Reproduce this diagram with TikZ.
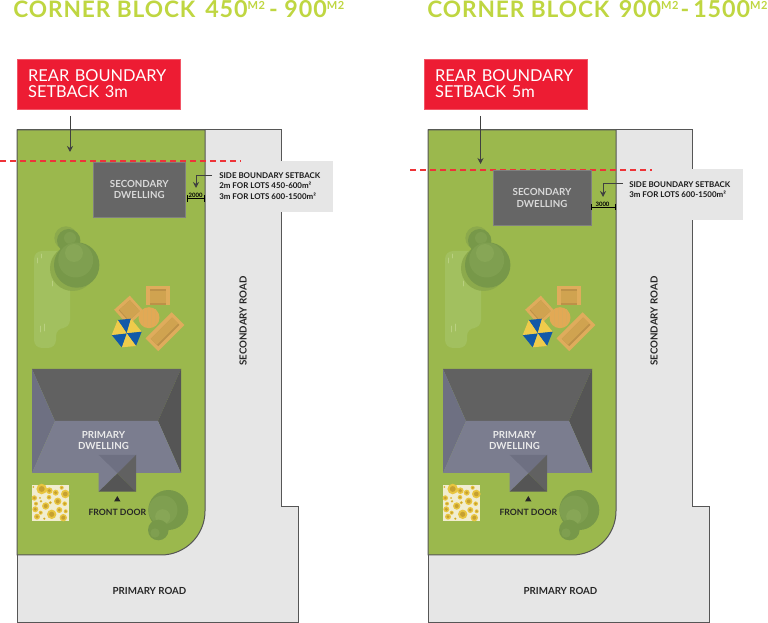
\documentclass[tikz,border=0pt]{standalone}
\usepackage{fontspec}
\setmainfont{Lato}
\usetikzlibrary{arrows.meta,calc,positioning}
\definecolor{lawn}{HTML}{9BB84D}
\definecolor{grassstrip}{HTML}{A2C05F}
\definecolor{grassline}{HTML}{B9D080}
\definecolor{roadgrey}{HTML}{E6E6E6}
\definecolor{edgegrey}{HTML}{565656}
\definecolor{titlegreen}{HTML}{BFD641}
\definecolor{setred}{HTML}{ED1C33}
\definecolor{dashred}{HTML}{EE3338}
\definecolor{seconddark}{HTML}{666666}
\definecolor{deck}{HTML}{DFAC5C}
\definecolor{deckin}{HTML}{D0A350}
\definecolor{deckline}{HTML}{BD9148}
\definecolor{canopy}{HTML}{779849}
\definecolor{canopyin}{HTML}{7F9F50}
\definecolor{canopytop}{HTML}{87A656}
\definecolor{canopyshade}{HTML}{8CAA4C}
\definecolor{bedcream}{HTML}{F1EDD0}
\definecolor{pollen}{HTML}{E8C53F}
\definecolor{pollendark}{HTML}{C6A032}
\definecolor{brollyblue}{HTML}{1259A8}
\definecolor{brollyyellow}{HTML}{EFCB4B}
\definecolor{roofflat}{HTML}{7B7D8F}
\definecolor{roofside}{HTML}{6E7082}
\definecolor{rooftop}{HTML}{616161}
\definecolor{roofdark}{HTML}{555555}
\newcommand{\NameM}{\raisebox{6.4pt}{\fontsize{8.3}{8.3}\selectfont M2}}
\tikzset{
  titletext/.style={anchor=base west,inner sep=0,text=titlegreen,font=\fontsize{#1}{#1}\selectfont\bfseries\addfontfeature{LetterSpace=4}},
  redbox/.style={fill=setred,draw=setred!75!white,line width=.5pt,inner sep=0,text=white,align=left,
    font=\fontsize{12.3}{12}\selectfont},
  roomtext/.style={inner sep=0,align=center,text=#1,font=\fontsize{7.3}{8.3}\selectfont\bfseries},
  roadtext/.style={inner sep=0,text=black!85,font=\fontsize{7.3}{8}\selectfont\bfseries},
  sidetext/.style={anchor=north west,inner sep=0,align=left,text=black!90,font=\fontsize{5.95}{7.8}\selectfont\bfseries},
  leader/.style={-{Stealth[length=4.5pt,width=4.5pt]},line width=.6pt,black!75},
  redline/.style={draw=dashred,line width=.85pt,dash pattern=on 4.5pt off 3pt},
  dimbar/.style={|-|,line width=.45pt,black},
  dimtext/.style={inner sep=0,text=black,font=\fontsize{4.5}{5}\selectfont\bfseries},
  streak/.style={line width=.6pt,line cap=round,grassline},
  lotplan/.pic={
    % ground
    \draw[fill=roadgrey,draw=edgegrey,line width=.75pt] (17,130) -- (281,130) -- (281,507) -- (298,507) -- (298,622) -- (17,622) -- cycle;
    \draw[fill=lawn,draw=edgegrey,line width=.75pt] (17,130) -- (205,130) [rounded corners=33pt] -- (205,555) [sharp corners] -- (17,555) -- cycle;
    \node[roadtext,rotate=90] (sroad) at (243,321) {SECONDARY ROAD};
    \node[roadtext] (proad) at (149.5,591) {PRIMARY ROAD};
    % grass strip
    \fill[grassstrip,rounded corners=6pt] (34,251) -- (70,251) -- (70,328) -- (56,328) -- (56,348) -- (34,348) -- cycle;
    \draw[streak] (37,258) -- (37,263);
    \draw[streak] (41,254) -- (41,258);
    \draw[streak] (52,281) -- (52,286);
    \draw[streak] (44,324) -- (44,331);
    \draw[streak] (40,326) -- (40,332);
    % tree
    \fill[canopyshade] (66,238) circle (11.7);
    \fill[canopy] (68.7,240.7) circle (11.7);
    \fill[canopyin] (70,238) circle (6);
    \fill[canopyshade] (72.7,268.3) circle (22.7);
    \fill[canopy] (76.7,265) circle (22.7);
    \fill[canopyin] (75.7,260) circle (17.5);
    \fill[canopytop] (74,253) circle (9);
    % table and benches
    \fill[deck] (146,286) rectangle (169.5,305);
    \fill[deckline] (149.5,289.5) rectangle (166,305);
    \fill[deckin] (150,291.5) rectangle (166,303);
    \begin{scope}[shift={(129,310.5)},rotate=42]
      \fill[deck] (-10.5,-10.5) rectangle (10.5,10.5);
      \fill[deckline] (-7.5,-7) rectangle (7.5,7.5);
      \fill[deckin] (-6.5,-7) rectangle (7.5,7.5);
    \end{scope}
    \begin{scope}[shift={(165,331.7)},rotate=45]
      \fill[deck] (-18.5,-9) rectangle (18.5,9);
      \fill[deckline] (-15,-5) rectangle (15,5.5);
      \fill[deckin] (-15,-5) rectangle (15,3.5);
    \end{scope}
    \fill[deck!92!orange] (149,317.7) circle (10.5);
    \foreach \offs in {-6,-2,2,6} {
      \draw[deck!75!deckin,line width=.3pt] (149+\offs,309) -- (149+\offs,326);
    }
    % umbrella
    \fill[brollyblue] (126.7,333.3) -- (117.7,320) -- (131,318.7) -- cycle;
    \fill[brollyyellow] (126.7,333.3) -- (131,318.7) -- (141.7,331.7) -- cycle;
    \fill[brollyblue] (126.7,333.3) -- (141.7,331.7) -- (136,346) -- cycle;
    \fill[brollyyellow] (126.7,333.3) -- (136,346) -- (121.7,347.3) -- cycle;
    \fill[brollyblue] (126.7,333.3) -- (121.7,347.3) -- (111.7,335) -- cycle;
    \fill[brollyyellow] (126.7,333.3) -- (111.7,335) -- (117.7,320) -- cycle;
    % primary dwelling
    \fill[rooftop] (32,369) -- (181,369) -- (158,421) -- (55,421) -- cycle;
    \fill[roofdark] (181,369) -- (181,473) -- (158,421) -- cycle;
    \fill[roofside] (32,369) -- (55,421) -- (32,473) -- cycle;
    \fill[roofflat] (55,421) -- (158,421) -- (181,473) -- (32,473) -- cycle;
    \fill[roofside] (98.7,455) -- (136,455) -- (117.3,473.5) -- cycle;
    \fill[roofflat] (98.7,455) -- (117.3,473.5) -- (98.7,491.7) -- cycle;
    \fill[rooftop] (136,455) -- (136,491.7) -- (117.3,473.5) -- cycle;
    \fill[roofdark] (98.7,491.7) -- (136,491.7) -- (117.3,473.5) -- cycle;
    \node[roomtext=black!8] (primary) at (103.5,440.5) {PRIMARY\\DWELLING};
    \fill[black!85] (117.3,496) -- (120.5,501.5) -- (114,501.5) -- cycle;
    \node[roomtext=black!85,font=\fontsize{6.5}{8}\selectfont\bfseries] (door) at (117.3,512) {FRONT DOOR};
    % garden bed
    \fill[bedcream] (32,485) rectangle (69,521.5);
    \foreach \px/\py/\pr in {41.7/489/5.3, 49.3/490.7/3.3, 55.7/492.7/3, 61.7/487.7/2, 65.3/494/4.3,
      34.3/498/2.7, 40/498/1, 49/497.3/2.3, 41/501.3/1.3, 36/503.7/2, 45.7/506/3.7, 50.3/502.7/1.7,
      57.7/501.3/3.7, 64.7/503.7/2.3, 35.3/509.3/3, 40.7/512.7/2, 51.7/514.3/4.7, 59.3/510/3,
      65.7/511.3/2, 37/516.7/3, 44.3/518.7/1.3, 63.3/517.7/3.7, 33.3/487/1} {
      \fill[pollen] (\px,\py) circle (\pr);
      \fill[pollendark] (\px,\py) circle (.55*\pr);
    }
    % second tree
    \fill[canopy] (168.3,510) circle (20);
    \fill[canopyin] (163,510) circle (14.5);
    \fill[canopytop] (162.7,516.7) circle (7.5);
    \fill[canopy] (158.3,530) circle (10.3);
    \fill[canopyin] (155,533) circle (4.7);
  }
}

\begin{document}
\begin{tikzpicture}[x=.75pt,y=-.75pt]
  \useasboundingbox (0,0) rectangle (768,623);

  \pic (leftlot) at (0,0) {lotplan};
  \pic (rightlot) at (411,0) {lotplan};

  % left block
  \node[titletext=17] (title1) at (13,18) {CORNER BLOCK};
  \node[titletext=17.5] (range1) at (205,18) {450\NameM\hspace{3pt}-\hspace{5pt}900\NameM};
  \node[redbox,minimum width=122pt,minimum height=37.5pt,text width=105.5pt] (rear1) at (98.5,84) {REAR BOUNDARY\\SETBACK 3m};
  \coordinate (reara1) at (70,116);
  \coordinate (rearb1) at (70,152);
  \draw[leader] (reara1) -- (rearb1);
  \fill[roadgrey] (206,161) rectangle (333,212);
  \coordinate (linea1) at (0,161);
  \coordinate (lineb1) at (241,161);
  \draw[redline] (linea1) -- (lineb1);
  \node[fill=seconddark,draw=black!50,line width=.3pt,minimum width=69.5pt,minimum height=41pt,inner sep=0] (second1) at (139.3,189.5) {};
  \node[roomtext=black!15] (secondtext1) at (second1) {SECONDARY\\DWELLING};
  \node[sidetext] (side1) at (219,172.5) {SIDE BOUNDARY SETBACK\\2m FOR LOTS 450-600m²\\3m FOR LOTS 600-1500m²};
  \coordinate (dima1) at (186.5,198.5);
  \coordinate (dimb1) at (205,198.5);
  \draw[dimbar] (dima1) -- (dimb1);
  \node[dimtext] (dim1) at (195.7,195.5) {2000};
  \coordinate (sida1) at (196,188);
  \draw[leader] (side1.west |- 0,175) ++(-7,0) -| (sida1);

  % right block
  \node[titletext=17] (title2) at (427,18) {CORNER BLOCK};
  \node[titletext=17.5] (range2) at (618.5,18) {900\NameM\hspace{1.5pt}-\hspace{3pt}1500\NameM};
  \node[redbox,minimum width=122pt,minimum height=37.5pt,text width=105.5pt] (rear2) at (505.5,84) {REAR BOUNDARY\\SETBACK 5m};
  \coordinate (reara2) at (480.5,116);
  \coordinate (rearb2) at (480.5,164);
  \draw[leader] (reara2) -- (rearb2);
  \fill[roadgrey] (617,169.5) rectangle (743,220.5);
  \coordinate (linea2) at (410,170);
  \coordinate (lineb2) at (652,170);
  \draw[redline] (linea2) -- (lineb2);
  \node[fill=seconddark,draw=black!50,line width=.3pt,minimum width=73.5pt,minimum height=41pt,inner sep=0] (second2) at (542,198) {};
  \node[roomtext=black!15] (secondtext2) at (second2) {SECONDARY\\DWELLING};
  \node[sidetext] (side2) at (629,181.5) {SIDE BOUNDARY SETBACK\\3m FOR LOTS 600-1500m²};
  \coordinate (dima2) at (591,207);
  \coordinate (dimb2) at (616,207);
  \draw[dimbar] (dima2) -- (dimb2);
  \node[dimtext] (dim2) at (602.5,204) {3000};
  \coordinate (sida2) at (603,197);
  \draw[leader] (side2.west |- 0,183) ++(-6,0) -| (sida2);
\end{tikzpicture}
\end{document}
